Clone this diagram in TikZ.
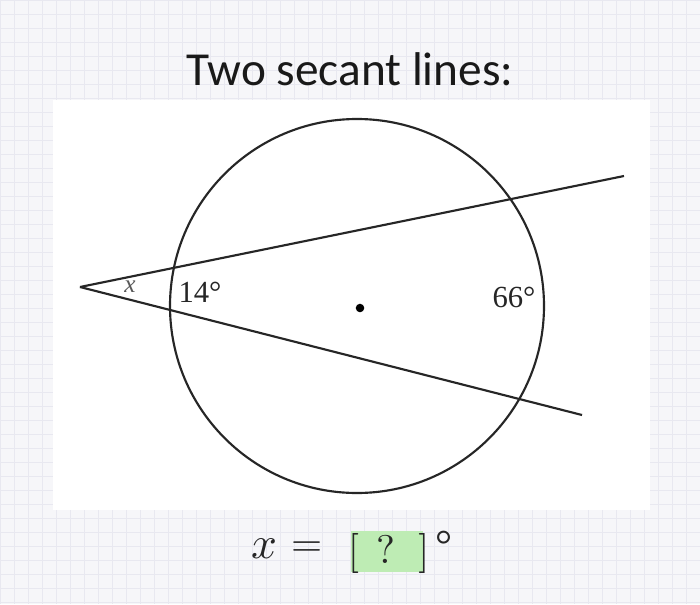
\documentclass[tikz,border=0pt]{standalone}
\usepackage{fontspec}
\setmainfont{Liberation Serif}
\newfontfamily\titlefont{Carlito}
\usepackage{unicode-math}
\begin{document}
\begin{tikzpicture}[x=0.75pt,y=-0.75pt,
  lineseg/.style={line width=1.6pt, draw=black!85},
  lbl/.style={font=\fontsize{23}{24}\selectfont, inner sep=0pt, text=black!85},
  eqt/.style={inner sep=0pt, font=\fontsize{30}{32}\selectfont, text=black!85}]
\definecolor{bggrid}{RGB}{246,246,249}
\definecolor{gridline}{RGB}{232,232,240}
\definecolor{ansgreen}{RGB}{190,236,180}
\useasboundingbox (0,0) rectangle (700,604);
\fill[bggrid] (0,0) rectangle (700,604);
\foreach \i in {0,14,...,700} \draw[gridline, line width=0.4pt] (\i,0) -- (\i,604);
\foreach \j in {0,14,...,604} \draw[gridline, line width=0.4pt] (0,\j) -- (700,\j);
\fill[white] (53,100) rectangle (650,510);
\node[font=\titlefont\fontsize{35.5}{38}\selectfont, inner sep=0pt, text=black!90] (title) at (350,69) {Two secant lines:};
\node[circle, draw=black!85, line width=1.6pt, minimum size=280.5pt, inner sep=0pt] (circ) at (357,306) {};
\fill[black] (360,308) circle (3.2pt);
\coordinate (V) at (80,287);
\coordinate (A) at (624,176);
\coordinate (B) at (582,415);
\draw[lineseg] (V) -- (A);
\draw[lineseg] (V) -- (B);
\node[inner sep=0pt, font=\itshape\fontsize{19}{20}\selectfont, text=black!65] (x) at (130,287) {x};
\node[lbl] (a14) at (200,292) {14°};
\node[lbl] (a66) at (514,297) {66°};
\fill[ansgreen] (351,531) rectangle (423,572);
\node[eqt, font=\fontsize{34}{36}\selectfont] (ex) at (264,549) {$x$};
\node[eqt] (eeq) at (307,549) {$=$};
\node[eqt] (lb) at (354,553) {$[$};
\node[eqt] (q) at (386,549) {$?$};
\node[eqt] (rb) at (424,553) {$]$};
\node[eqt, font=\fontsize{32}{34}\selectfont] (deg) at (444,545) {°};
\end{tikzpicture}
\end{document}
